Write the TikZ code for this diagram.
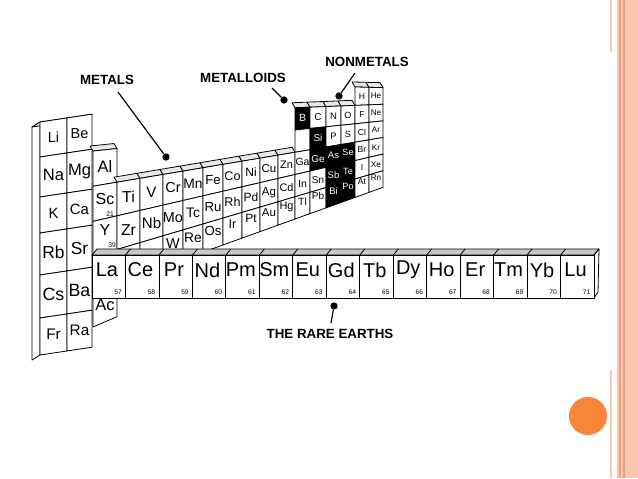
\documentclass[tikz,border=0pt]{standalone}
\usepackage{fontspec}
\setmainfont{Liberation Sans}
\begin{document}
\begin{tikzpicture}[x=0.75pt,y=-0.75pt,
  cl/.style={draw=black,line width=0.6pt,line join=round},
  lab/.style={font=\bfseries\fontsize{10}{10}\selectfont},
  dot/.style={circle,fill=black,inner sep=0pt,minimum size=5.5pt},
  lead/.style={line width=0.9pt}]
\useasboundingbox (0,0) rectangle (638,478);
\definecolor{band}{RGB}{249,198,174}
\definecolor{bandl}{RGB}{238,160,130}
\definecolor{orng}{RGB}{247,134,57}
\definecolor{topf}{RGB}{200,200,200}
% slide decoration
\fill[band] (617,0) rectangle (638,478);
\draw[bandl,line width=0.8pt] (620,0)--(620,478) (624,0)--(624,478);
\draw[band,line width=1.5pt] (611,0)--(611,52) (611,370)--(611,478);
\node[circle,fill=orng,minimum size=28.5pt,inner sep=0pt] (sun) at (588,416) {};
% ---------- macros
\newcommand\tcell[5]{%
 \pgfmathsetmacro\xl{{93,117,140,163,183,203,223,242,260,278,295,310,326,341,355,369,383}[#1-3]}%
 \pgfmathsetmacro\xr{{93,117,140,163,183,203,223,242,260,278,295,310,326,341,355,369,383}[#1-2]}%
 \pgfmathsetmacro\hl{33-0.064*(\xl-127)}%
 \pgfmathsetmacro\hr{33-0.064*(\xr-127)}%
 \pgfmathsetmacro\ytl{197-0.2*(\xl-127)+(#2-4.5)*\hl}%
 \pgfmathsetmacro\ytr{197-0.2*(\xr-127)+(#2-4.5)*\hr}%
 \pgfmathsetmacro\ybl{\ytl+\hl}%
 \pgfmathsetmacro\ybr{\ytr+\hr}%
 \pgfmathsetmacro\fs{0.36*(\hl+\hr)/2}%
 \draw[cl,fill=#4] (\xl,\ytl)--(\xr,\ytr)--(\xr,\ybr)--(\xl,\ybl)--cycle;
 \node[text=#5,inner sep=0pt,font=\fontsize{\fs}{\fs}\selectfont] (t-#1-#2) at ({(\xl+\xr)/2},{(\ytl+\ytr+\ybl+\ybr)/4-(#2==6)*4}) {#3};}
\newcommand\ttop[2]{%
 \pgfmathsetmacro\xl{{93,117,140,163,183,203,223,242,260,278,295,310,326,341,355,369,383}[#1-3]}%
 \pgfmathsetmacro\xr{{93,117,140,163,183,203,223,242,260,278,295,310,326,341,355,369,383}[#1-2]}%
 \pgfmathsetmacro\hl{33-0.064*(\xl-127)}%
 \pgfmathsetmacro\hr{33-0.064*(\xr-127)}%
 \pgfmathsetmacro\ytl{197-0.2*(\xl-127)+(#2-4.5)*\hl}%
 \pgfmathsetmacro\ytr{197-0.2*(\xr-127)+(#2-4.5)*\hr}%
 \draw[cl,fill=topf!40] (\xl,\ytl)--(\xr,\ytr)--(\xr-3,\ytr-5)--(\xl-3,\ytl-5)--cycle;}
\newcommand\lcell[4]{% col (1/2), row, text, name
 \pgfmathsetmacro\xl{{40,67}[#1-1]}%
 \pgfmathsetmacro\xr{{67,92}[#1-1]}%
 \pgfmathsetmacro\yt{{122,157,197,233,275,318}[#2-2]}%
 \pgfmathsetmacro\yb{{157,197,233,275,318,355}[#2-2]}%
 \pgfmathsetmacro\fs{0.31*(\yb-\yt)}%
 \draw[cl,fill=white] (\xl,{\yt-0.15*(\xl-40)})--(\xr,{\yt-0.15*(\xr-40)})--(\xr,{\yb-0.15*(\xr-40)})--(\xl,{\yb-0.15*(\xl-40)})--cycle;
 \node[inner sep=0pt,font=\fontsize{\fs}{\fs}\selectfont] (#4) at ({(\xl+\xr)/2},{(\yt+\yb)/2-0.15*((\xl+\xr)/2-40)}) {#3};}
% ---------- left block
\draw[cl,fill=white] (32,127)--(40,122)--(40,355)--(32,360)--cycle;
\draw[cl,fill=topf!40] (32,127)--(40,122)--(92,114.2)--(84,119)--cycle;
\lcell{1}{2}{Li}{li}\lcell{2}{2}{Be}{be}
\lcell{1}{3}{Na}{na}\lcell{2}{3}{Mg}{mg}
\lcell{1}{4}{K}{k}\lcell{2}{4}{Ca}{ca}
\lcell{1}{5}{Rb}{rb}\lcell{2}{5}{Sr}{sr}
\lcell{1}{6}{Cs}{cs}\lcell{2}{6}{Ba}{ba}
\lcell{1}{7}{Fr}{fr}\lcell{2}{7}{Ra}{ra}
% ---------- column 3 and transition metals
\ttop{3}{3}
\tcell{3}{3}{Al}{white}{black}
\tcell{3}{4}{}{white}{black}
\tcell{3}{5}{}{white}{black}
\tcell{3}{6}{}{white}{black}
\tcell{3}{7}{Ac}{white}{black}
\node[inner sep=0pt,font=\fontsize{12}{12}\selectfont] (sc) at (105,199) {Sc};
\node[inner sep=0pt,font=\fontsize{5}{5}\selectfont] (n21) at (110,214) {21};
\node[inner sep=0pt,font=\fontsize{12}{12}\selectfont] (y) at (105,230) {Y};
\node[inner sep=0pt,font=\fontsize{5}{5}\selectfont] (n39) at (112,245) {39};
\foreach \c/\s in {4/Ti,5/V,6/Cr,7/Mn,8/Fe,9/Co,10/Ni,11/Cu,12/Zn}{\ttop{\c}{4}\tcell{\c}{4}{\s}{white}{black}}
\foreach \c/\s in {4/Zr,5/Nb,6/Mo,7/Tc,8/Ru,9/Rh,10/Pd,11/Ag,12/Cd}{\tcell{\c}{5}{\s}{white}{black}}
\foreach \c/\s in {4/,5/,6/W,7/Re,8/Os,9/Ir,10/Pt,11/Au,12/Hg}{\tcell{\c}{6}{\s}{white}{black}}
% ---------- p block
\foreach \c in {13,14,15,16}{\ttop{\c}{2}}
\ttop{17}{1}\ttop{18}{1}
\tcell{17}{1}{H}{white}{black}\tcell{18}{1}{He}{white}{black}
\tcell{13}{2}{B}{black}{white}\tcell{14}{2}{C}{white}{black}\tcell{15}{2}{N}{white}{black}
\tcell{16}{2}{O}{white}{black}\tcell{17}{2}{F}{white}{black}\tcell{18}{2}{Ne}{white}{black}
\tcell{13}{3}{}{white}{black}\tcell{14}{3}{Si}{black}{white}\tcell{15}{3}{P}{white}{black}
\tcell{16}{3}{S}{white}{black}\tcell{17}{3}{Cl}{white}{black}\tcell{18}{3}{Ar}{white}{black}
\tcell{13}{4}{Ga}{white}{black}\tcell{14}{4}{Ge}{black}{white}\tcell{15}{4}{As}{black}{white}
\tcell{16}{4}{Se}{black}{white}\tcell{17}{4}{Br}{white}{black}\tcell{18}{4}{Kr}{white}{black}
\tcell{13}{5}{In}{white}{black}\tcell{14}{5}{Sn}{white}{black}\tcell{15}{5}{Sb}{black}{white}
\tcell{16}{5}{Te}{black}{white}\tcell{17}{5}{I}{white}{black}\tcell{18}{5}{Xe}{white}{black}
\tcell{13}{6}{Tl}{white}{black}\tcell{14}{6}{Pb}{white}{black}\tcell{15}{6}{Bi}{black}{white}
\tcell{16}{6}{Po}{black}{white}\tcell{17}{6}{At}{white}{black}\tcell{18}{6}{Rn}{white}{black}
% ---------- rare earths bar
\draw[cl,fill=topf] (92,255)--(97,249)--(599,249)--(594,255)--cycle;
\draw[cl,fill=white] (594,255)--(599,249)--(598,292)--(594,298)--cycle;
\foreach \i/\s in {0/La,1/Ce,2/Pr,3/Nd,4/Pm,5/Sm,6/Eu,7/Gd,8/Tb,9/Dy,10/Ho,11/Er,12/Tm,13/Yb,14/Lu}{
  \pgfmathsetmacro\xa{92+33.47*\i}
  \pgfmathtruncatemacro\num{57+\i}
  \draw[cl,fill=white] (\xa,255) rectangle ({\xa+33.47},298);
  \draw[cl] ({\xa+33.47},255)--({\xa+38.47},249);
  \node[inner sep=0pt,font=\fontsize{15}{15}\selectfont] (re\i) at ({\xa+15},270) {\s};
  \node[inner sep=0pt,font=\fontsize{5}{5}\selectfont,anchor=east] (rn\i) at ({\xa+30},292) {\num};
}
% ---------- labels
\node[lab] (metals) at (107,80) {METALS};
\node[lab] (metalloids) at (243,78) {METALLOIDS};
\node[lab] (nonmetals) at (367,62) {NONMETALS};
\node[lab] (rare) at (330,334) {THE RARE EARTHS};
\node[dot] (d1) at (166,157) {};
\node[dot] (d2) at (284,100) {};
\node[dot] (d3) at (339,96) {};
\node[dot] (d4) at (334,306) {};
\coordinate (m1) at (118,92);
\coordinate (m2) at (272,88);
\coordinate (m3) at (355,73);
\coordinate (m4) at (331,323);
\draw[lead] (m1)--(d1);
\draw[lead] (m2)--(d2);
\draw[lead] (m3)--(d3);
\draw[lead] (m4)--(d4);
\end{tikzpicture}
\end{document}
